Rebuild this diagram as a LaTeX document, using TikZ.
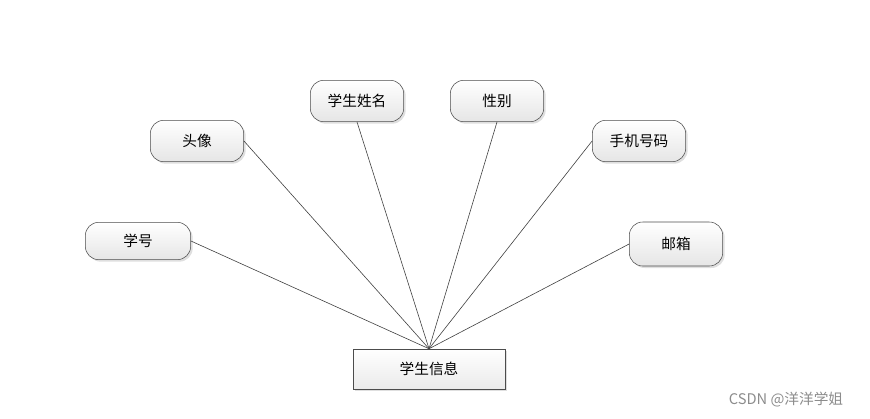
\documentclass[tikz,border=0pt]{standalone}
\usepackage{fontspec}
\newfontfamily\cjk{Noto Sans CJK SC}
\usetikzlibrary{positioning,shadows}
\tikzset{
  attr/.style={draw=black!70,rounded corners=10pt,minimum width=70pt,minimum height=31pt,
    top color=white,bottom color=black!10,drop shadow={opacity=0.25,shadow xshift=1.5pt,shadow yshift=-1.5pt},
    font=\cjk\fontsize{11}{13}\selectfont},
  entity/.style={draw=black!70,minimum width=114pt,minimum height=30pt,
    top color=white,bottom color=black!8,drop shadow={opacity=0.25,shadow xshift=1.5pt,shadow yshift=-1.5pt},
    font=\cjk\fontsize{11}{13}\selectfont},
  link/.style={draw=black!75,line width=0.45pt}
}
\begin{document}
\begin{tikzpicture}[x=0.75pt,y=-0.75pt]
    \useasboundingbox (0,0) rectangle (870,418);
    \node[entity] (info) at (429,369) {学生信息};
    \node[attr,minimum width=79pt,minimum height=28pt] (id) at (138,241) {学号};
    \node[attr] (avatar) at (197,141) {头像};
    \node[attr] (name) at (357,101) {学生姓名};
    \node[attr] (sex) at (497,101) {性别};
    \node[attr] (phone) at (639,141) {手机号码};
    \node[attr,minimum height=33pt] (mail) at (676,244) {邮箱};

    \path[link]
    (id.east) edge (info.north)
    (avatar.east) edge (info.north)
    (name.south) edge (info.north)
    (sex.south) edge (info.north)
    (phone.west) edge (info.north)
    (mail.west) edge (info.north);

    \node[text=black!45,font=\cjk\fontsize{11}{13}\selectfont] (mark) at (786,400) {CSDN @洋洋学姐};
\end{tikzpicture}
\end{document}
